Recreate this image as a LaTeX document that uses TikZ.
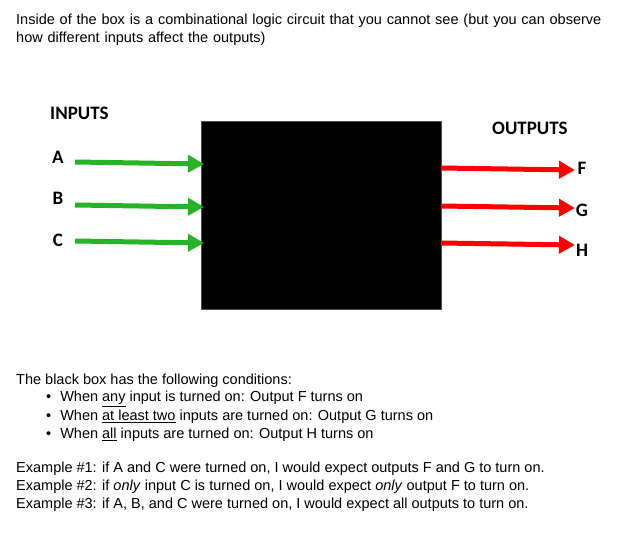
\documentclass[tikz,border=0pt]{standalone}
\usepackage{fontspec}
\setmainfont{Liberation Sans}
\newfontfamily\labelfont{Carlito}
\usetikzlibrary{arrows.meta,positioning}
\begin{document}
\begin{tikzpicture}[
    x=1pt, y=-1pt,
    txt/.style={anchor=west, inner sep=0, font=\fontsize{14.5}{18}\selectfont},
    lbl/.style={inner sep=0, font=\labelfont\bfseries\fontsize{19}{22}\selectfont},
    inarrow/.style={draw=green!65!black!85, line width=5pt, -{Triangle[length=16pt,width=17pt]}},
    outarrow/.style={draw=red, line width=5pt, -{Triangle[length=16pt,width=17pt]}}]
\useasboundingbox (0,0) rectangle (642,533);
% intro text
\node[txt, anchor=north west, text width=615pt, align=left] (intro) at (16,14)
  {Inside of the box is a combinational logic circuit that you cannot see (but you can observe how different inputs affect the outputs)};
% black box
\node[fill=black, draw=black!70, minimum width=240pt, minimum height=188pt, inner sep=0] (box) at (321,215) {};
% labels
\node[lbl, anchor=west] (inputs) at (50,113) {INPUTS};
\node[lbl, anchor=west] (outputs) at (492,128) {OUTPUTS};
\node[lbl] (A) at (58,157) {A};
\node[lbl] (B) at (58,198) {B};
\node[lbl] (C) at (58,240) {C};
\node[lbl] (F) at (582,168) {F};
\node[lbl] (G) at (582,210) {G};
\node[lbl] (H) at (582,250) {H};
% arrow ends
\coordinate (a0) at (75,162); \coordinate (a1) at (204,164);
\coordinate (b0) at (75,205); \coordinate (b1) at (204,207);
\coordinate (c0) at (75,241); \coordinate (c1) at (204,243);
\coordinate (f0) at (441,168); \coordinate (f1) at (575,170);
\coordinate (g0) at (441,206); \coordinate (g1) at (575,208);
\coordinate (h0) at (441,243); \coordinate (h1) at (575,245);
\draw[inarrow] (a0) -- (a1);
\draw[inarrow] (b0) -- (b1);
\draw[inarrow] (c0) -- (c1);
\draw[outarrow] (f0) -- (f1);
\draw[outarrow] (g0) -- (g1);
\draw[outarrow] (h0) -- (h1);
% conditions
\node[txt] (cond) at (16,381) {The black box has the following conditions:};
\node[txt] (c1t) at (46,399) {\textbullet\hspace{9pt}When \underline{any} input is turned on: Output F turns on};
\node[txt] (c2t) at (46,417) {\textbullet\hspace{9pt}When \underline{at least two} inputs are turned on: Output G turns on};
\node[txt] (c3t) at (46,435) {\textbullet\hspace{9pt}When \underline{all} inputs are turned on: Output H turns on};
% examples
\node[txt] (ex1) at (16,469) {Example \#1: if A and C were turned on, I would expect outputs F and G to turn on.};
\node[txt] (ex2) at (16,487) {Example \#2: if \textit{only} input C is turned on, I would expect \textit{only} output F to turn on.};
\node[txt] (ex3) at (16,505) {Example \#3: if A, B, and C were turned on, I would expect all outputs to turn on.};
\end{tikzpicture}
\end{document}
